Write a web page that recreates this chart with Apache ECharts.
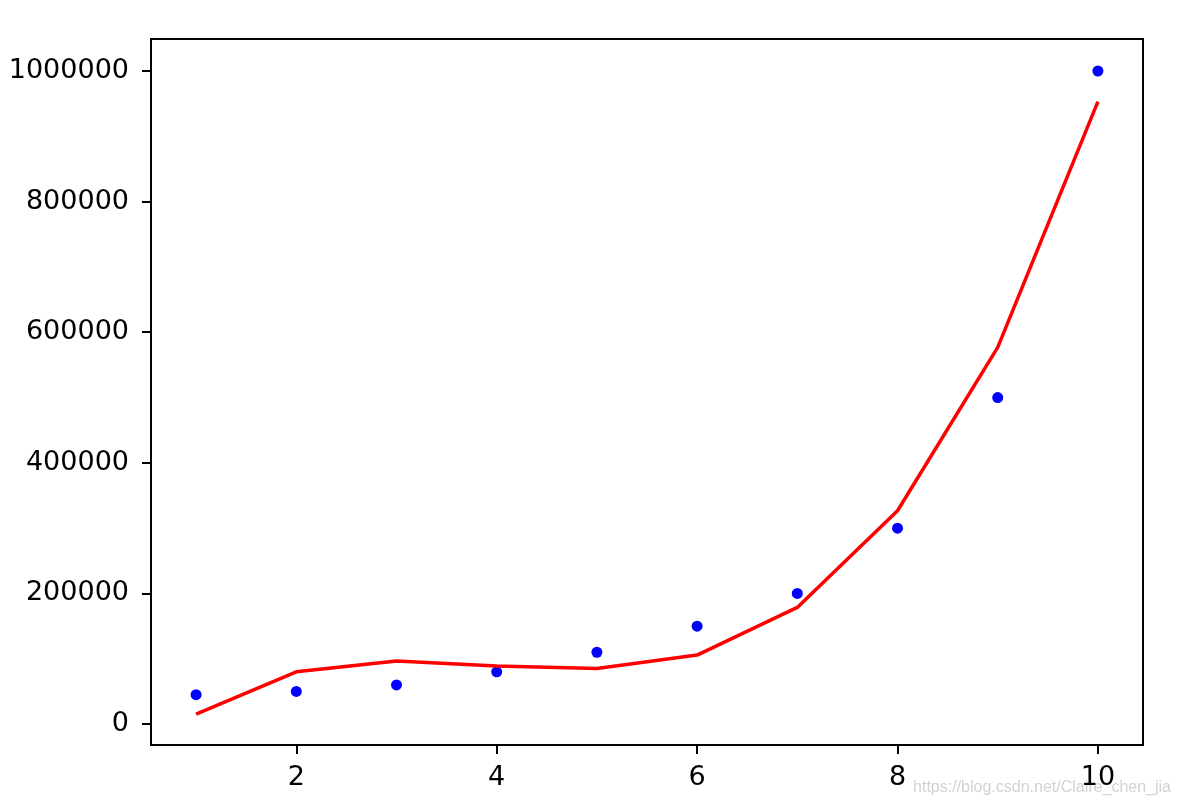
<!DOCTYPE html>
<html>
<head>
<meta charset="utf-8">
<script src="https://cdn.jsdelivr.net/npm/echarts@6/dist/echarts.min.js"></script>
<style>
html,body{margin:0;padding:0;background:#fff;}
#main{width:1181px;height:807px;}
</style>
</head>
<body>
<div id="main"></div>
<script>
var levels = [1, 2, 3, 4, 5, 6, 7, 8, 9, 10];
var salaries = [45000, 50000, 60000, 80000, 110000, 150000, 200000, 300000, 500000, 1000000];
var fitted = [15300, 80000, 96500, 88800, 85300, 105700, 178700, 326700, 576800, 953000];
var xTicks = [2, 4, 6, 8, 10];
var yTicks = [0, 200000, 400000, 600000, 800000, 1000000];

var chart = echarts.init(document.getElementById('main'), null, {renderer: 'canvas'});
var font = 'DejaVu Sans';
chart.setOption({
  animation: false,
  backgroundColor: '#ffffff',
  grid: {left: 151, right: 38, top: 39, bottom: 62, show: true, borderColor: '#000', borderWidth: 2},
  xAxis: {
    type: 'value', min: 0.55, max: 10.45,
    splitLine: {show: false},
    axisLine: {show: true, onZero: false, lineStyle: {color: '#000', width: 2}},
    axisTick: {show: true, inside: false, length: 9, lineStyle: {color: '#000', width: 2}, customValues: xTicks},
    axisLabel: {color: '#000', fontFamily: font, fontSize: 27, margin: 19, customValues: xTicks,
      formatter: function (v) { return String(v); }}
  },
  yAxis: {
    type: 'value', min: -32000, max: 1049000,
    splitLine: {show: false},
    axisLine: {show: true, onZero: false, lineStyle: {color: '#000', width: 2}},
    axisTick: {show: true, inside: false, length: 9, lineStyle: {color: '#000', width: 2}, customValues: yTicks},
    axisLabel: {color: '#000', fontFamily: font, fontSize: 27, margin: 22, customValues: yTicks,
      padding: [4, 0, 0, 0],
      formatter: function (v) { return String(v); }}
  },
  graphic: [{
    type: 'text', right: 10, top: 780,
    style: {text: 'https://blog.csdn.net/Claire_chen_jia', fill: '#d2d2d2', font: '16px "Liberation Sans", Arial, sans-serif'}
  }],
  series: [
    {
      type: 'scatter',
      data: levels.map(function (x, i) { return [x, salaries[i]]; }),
      symbol: 'circle', symbolSize: 11,
      itemStyle: {color: '#0000ff', opacity: 1},
      z: 2
    },
    {
      type: 'line',
      data: levels.map(function (x, i) { return [x, fitted[i]]; }),
      showSymbol: false, symbol: 'none',
      lineStyle: {color: '#ff0000', width: 3.5},
      z: 3
    }
  ]
});
</script>
</body>
</html>
